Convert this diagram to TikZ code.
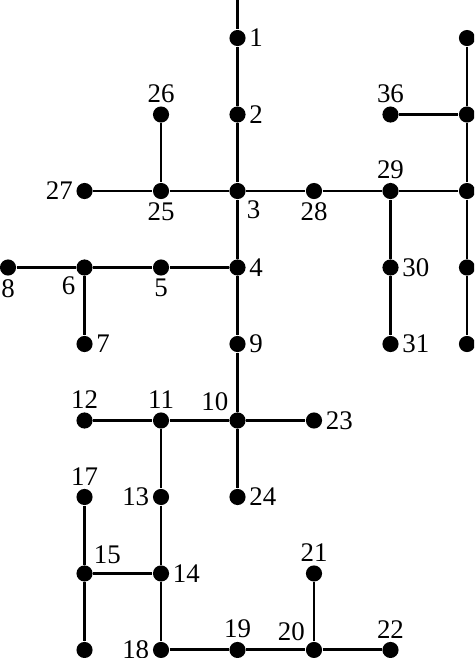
\documentclass[tikz,border=0pt]{standalone}
\usepackage{fontspec}
\setmainfont{Liberation Serif}
\tikzset{
  bus/.style={circle,fill=black,inner sep=0pt,minimum size=6pt},
  every label/.style={font=\fontsize{10}{12}\selectfont,inner sep=1pt},
  line/.style={line width=1.1pt}
}
\begin{document}
\begin{tikzpicture}
          \clip (-0.105,-8.105) rectangle (6.094,0.497);
          % main feeder
          \coordinate (top) at (3,0.8);
          \node[bus,label=right:1] (n1) at (3,0) {};
          \node[bus,label=right:2] (n2) at (3,-1) {};
          \node[bus,label={below right:3}] (n3) at (3,-2) {};
          \node[bus,label=right:4] (n4) at (3,-3) {};
          \node[bus,label=right:9] (n9) at (3,-4) {};
          \node[bus,label={above left:10}] (n10) at (3,-5) {};
          \node[bus,label=right:24] (n24) at (3,-6) {};
          \node[bus,label=right:23] (n23) at (4,-5) {};
          % left branches
          \node[bus,label=below:25] (n25) at (2,-2) {};
          \node[bus,label=above:26] (n26) at (2,-1) {};
          \node[bus,label=left:27] (n27) at (1,-2) {};
          \node[bus,label=below:5] (n5) at (2,-3) {};
          \node[bus,label={below left:6}] (n6) at (1,-3) {};
          \node[bus,label=right:7] (n7) at (1,-4) {};
          \node[bus,label=below:8] (n8) at (0,-3) {};
          \node[bus,label=above:11] (n11) at (2,-5) {};
          \node[bus,label=above:12] (n12) at (1,-5) {};
          \node[bus,label=left:13] (n13) at (2,-6) {};
          \node[bus,label=right:14] (n14) at (2,-7) {};
          \node[bus,label={above right:15}] (n15) at (1,-7) {};
          \node[bus,label=above:17] (n17) at (1,-6) {};
          \node[bus] (n16) at (1,-8) {};
          \node[bus,label=left:18] (n18) at (2,-8) {};
          \node[bus,label=above:19] (n19) at (3,-8) {};
          \node[bus,label={above left:20}] (n20) at (4,-8) {};
          \node[bus,label=above:21] (n21) at (4,-7) {};
          \node[bus,label=above:22] (n22) at (5,-8) {};
          % right branches
          \node[bus,label=below:28] (n28) at (4,-2) {};
          \node[bus,label=above:29] (n29) at (5,-2) {};
          \node[bus,label=right:30] (n30) at (5,-3) {};
          \node[bus,label=right:31] (n31) at (5,-4) {};
          \node[bus,label=above:36] (n36) at (5,-1) {};
          \node[bus] (n37) at (6,0) {};
          \node[bus] (n35) at (6,-1) {};
          \node[bus] (n32) at (6,-2) {};
          \node[bus] (n33) at (6,-3) {};
          \node[bus] (n34) at (6,-4) {};

          \draw[line] (top) -- (n1) -- (n2) -- (n3) -- (n4) -- (n9) -- (n10) -- (n24);
          \draw[line] (n10) -- (n23);
          \draw[line] (n27) -- (n25) -- (n3) -- (n28) -- (n29) -- (n32);
          \draw[line] (n25) -- (n26);
          \draw[line] (n8) -- (n6) -- (n5) -- (n4);
          \draw[line] (n6) -- (n7);
          \draw[line] (n12) -- (n11) -- (n10);
          \draw[line] (n11) -- (n13) -- (n14) -- (n18) -- (n19) -- (n20) -- (n22);
          \draw[line] (n20) -- (n21);
          \draw[line] (n17) -- (n15) -- (n16);
          \draw[line] (n15) -- (n14);
          \draw[line] (n29) -- (n30) -- (n31);
          \draw[line] (n36) -- (n35);
          \draw[line] (n37) -- (n35) -- (n32) -- (n33) -- (n34);
      \end{tikzpicture}
\end{document}
